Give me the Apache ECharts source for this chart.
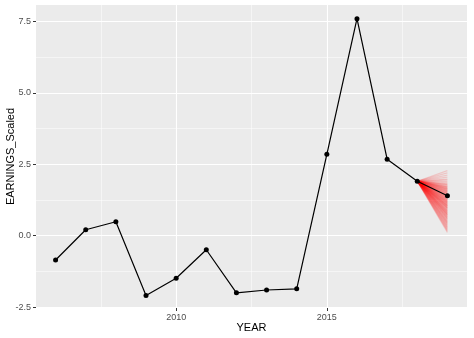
<!DOCTYPE html>
<html>
<head>
<meta charset="utf-8">
<script src="https://cdn.jsdelivr.net/npm/echarts@6/dist/echarts.min.js"></script>
<style>
html,body{margin:0;padding:0;background:#fff;}
#c{width:474px;height:338px;}
</style>
</head>
<body>
<div id="c"></div>
<script>
// Data
const years = [2006, 2007, 2008, 2009, 2010, 2011, 2012, 2013, 2014, 2015, 2016, 2017, 2018, 2019];
const earnings = [-0.85, 0.21, 0.49, -2.09, -1.49, -0.49, -2.0, -1.9, -1.86, 2.85, 7.6, 2.68, 1.91, 1.40];
const fanStartYear = 2018;
const fanStartValue = 1.91;
const fanEndYear = 2019;
const fanEndValues = [2.28, 2.2, 2.12, 2.05, 1.98, 1.95, 1.9, 1.86, 1.82, 1.8, 1.78, 1.76, 1.73, 1.71, 1.7,
  1.68, 1.66, 1.65, 1.63, 1.62, 1.6, 1.58, 1.57, 1.55, 1.53, 1.52, 1.5, 1.48, 1.47, 1.45, 1.43, 1.42,
  1.4, 1.38, 1.37, 1.35, 1.33, 1.32, 1.3, 1.28, 1.27, 1.25, 1.23, 1.22, 1.2, 1.18, 1.17, 1.15, 1.14,
  1.12, 1.1, 1.08, 1.07, 1.05, 1.04, 1.02, 1.0, 0.98, 0.97, 0.95, 0.93, 0.9, 0.88, 0.86, 0.84, 0.82,
  0.8, 0.78, 0.76, 0.74, 0.72, 0.7, 0.67, 0.65, 0.62, 0.6, 0.57, 0.54, 0.5, 0.48, 0.44, 0.42, 0.38,
  0.35, 0.31, 0.28, 0.24, 0.2, 0.16, 0.12];
const xMajorTicks = [2010, 2015];
const xMinorTicks = [2007.5, 2012.5, 2017.5];
const yMajorTicks = [-2.5, 0, 2.5, 5, 7.5];
const yMinorTicks = [-1.25, 1.25, 3.75, 6.25];
const xTitle = 'YEAR';
const yTitle = 'EARNINGS_Scaled';

const xMin = 2005.35, xMax = 2019.65;
const yMin = -2.53, yMax = 8.08;

const chart = echarts.init(document.getElementById('c'), null, {renderer: 'canvas'});

const fanSeries = fanEndValues.map(v => ({
  type: 'line',
  xAxisIndex: 0, yAxisIndex: 0,
  data: [[fanStartYear, fanStartValue], [fanEndYear, v]],
  symbol: 'none',
  silent: true,
  animation: false,
  lineStyle: {color: 'rgba(255,0,0,0.16)', width: 1.2},
  z: 2
}));

const font = '"Liberation Sans", Arial, sans-serif';

chart.setOption({
  animation: false,
  grid: {
    left: 36, right: 7, top: 5, bottom: 30,
    outerBoundsMode: 'none', containLabel: false,
    show: true, backgroundColor: '#EBEBEB', borderWidth: 0
  },
  xAxis: [{
    type: 'value', min: xMin, max: xMax, position: 'bottom',
    name: xTitle, nameLocation: 'middle', nameGap: 14, nameMoveOverlap: false,
    nameTextStyle: {color: '#000', fontSize: 11, fontFamily: font},
    axisLine: {show: false, onZero: false},
    axisTick: {show: true, length: 3, customValues: xMajorTicks, lineStyle: {color: '#333', width: 1}},
    axisLabel: {customValues: xMajorTicks, color: '#4D4D4D', fontSize: 9, fontFamily: font, margin: 5,
      formatter: v => String(v)},
    splitLine: {show: true, lineStyle: {color: '#fff', width: 1.1}}
  }, {
    type: 'value', min: xMin, max: xMax, position: 'bottom',
    axisLine: {show: false, onZero: false},
    axisTick: {show: false, customValues: xMinorTicks},
    axisLabel: {show: false, customValues: xMinorTicks},
    splitLine: {show: true, lineStyle: {color: '#fff', width: 0.5}}
  }],
  yAxis: [{
    type: 'value', min: yMin, max: yMax, position: 'left',
    name: yTitle, nameLocation: 'middle', nameGap: 20, nameRotate: 90, nameMoveOverlap: false,
    nameTextStyle: {color: '#000', fontSize: 11, fontFamily: font},
    axisLine: {show: false, onZero: false},
    axisTick: {show: true, length: 3, customValues: yMajorTicks, lineStyle: {color: '#333', width: 1}},
    axisLabel: {customValues: yMajorTicks, color: '#4D4D4D', fontSize: 9, fontFamily: font, margin: 5,
      formatter: v => v.toFixed(1)},
    splitLine: {show: true, lineStyle: {color: '#fff', width: 1.1}}
  }, {
    type: 'value', min: yMin, max: yMax, position: 'left',
    axisLine: {show: false, onZero: false},
    axisTick: {show: false, customValues: yMinorTicks},
    axisLabel: {show: false, customValues: yMinorTicks},
    splitLine: {show: true, lineStyle: {color: '#fff', width: 0.5}}
  }],
  series: fanSeries.concat([{
    type: 'line',
    xAxisIndex: 0, yAxisIndex: 0,
    data: years.map((y, i) => [y, earnings[i]]),
    symbol: 'circle', symbolSize: 5,
    itemStyle: {color: '#000'},
    lineStyle: {color: '#000', width: 1.2},
    z: 5
  }])
});
</script>
</body>
</html>
